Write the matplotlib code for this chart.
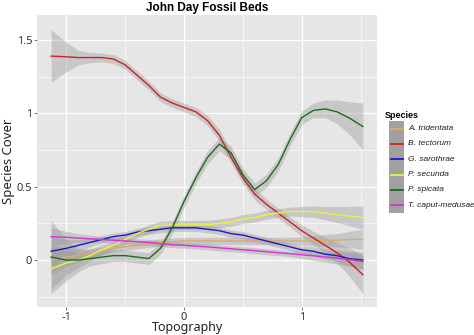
import matplotlib.pyplot as plt
from matplotlib.patches import Rectangle
from matplotlib.lines import Line2D

# Topography values where the smoothed curves were read
topography = [-1.13, -1.0, -0.9, -0.8, -0.7, -0.6, -0.5, -0.4, -0.3, -0.2, -0.1, 0.0, 0.1, 0.2,
              0.3, 0.4, 0.5, 0.6, 0.7, 0.8, 0.9, 1.0, 1.1, 1.2, 1.3, 1.4, 1.52]

# Smoothed cover for each species (fit) and the half width of its grey band (se)
a_tridentata = [0.0, 0.02, 0.03, 0.05, 0.06, 0.08, 0.09, 0.10, 0.11, 0.12, 0.125, 0.13, 0.13, 0.13,
                0.13, 0.13, 0.13, 0.13, 0.13, 0.13, 0.13, 0.13, 0.13, 0.135, 0.135, 0.14, 0.14]
a_tridentata_se = [0.10, 0.06, 0.04, 0.03, 0.025, 0.025, 0.025, 0.025, 0.025, 0.025, 0.025, 0.025, 0.025, 0.025,
                   0.025, 0.025, 0.025, 0.025, 0.025, 0.025, 0.025, 0.03, 0.035, 0.04, 0.045, 0.055, 0.07]

b_tectorum = [1.39, 1.385, 1.38, 1.38, 1.38, 1.37, 1.33, 1.26, 1.19, 1.11, 1.07, 1.04, 1.01, 0.95,
              0.85, 0.70, 0.56, 0.45, 0.38, 0.32, 0.26, 0.20, 0.15, 0.10, 0.05, -0.01, -0.10]
b_tectorum_se = [0.18, 0.10, 0.05, 0.035, 0.03, 0.03, 0.03, 0.03, 0.03, 0.03, 0.03, 0.03, 0.03, 0.035,
                 0.04, 0.04, 0.04, 0.04, 0.035, 0.035, 0.035, 0.04, 0.045, 0.055, 0.07, 0.095, 0.13]

g_sarothrae = [0.06, 0.08, 0.10, 0.12, 0.14, 0.16, 0.17, 0.19, 0.20, 0.21, 0.22, 0.22, 0.22, 0.21,
               0.20, 0.18, 0.17, 0.15, 0.13, 0.11, 0.09, 0.07, 0.06, 0.04, 0.03, 0.01, 0.0]
g_sarothrae_se = [0.10, 0.06, 0.04, 0.03, 0.025, 0.025, 0.025, 0.025, 0.025, 0.025, 0.025, 0.025, 0.025, 0.025,
                  0.025, 0.025, 0.025, 0.025, 0.025, 0.025, 0.025, 0.025, 0.03, 0.035, 0.04, 0.05, 0.06]

p_secunda = [-0.06, -0.02, 0.0, 0.03, 0.07, 0.10, 0.14, 0.18, 0.21, 0.235, 0.24, 0.24, 0.24, 0.24,
             0.25, 0.26, 0.28, 0.29, 0.31, 0.32, 0.33, 0.33, 0.33, 0.32, 0.31, 0.30, 0.29]
p_secunda_se = [0.14, 0.08, 0.05, 0.04, 0.035, 0.03, 0.03, 0.03, 0.03, 0.03, 0.03, 0.03, 0.03, 0.03,
                0.03, 0.03, 0.03, 0.03, 0.03, 0.03, 0.03, 0.035, 0.04, 0.045, 0.055, 0.065, 0.08]

p_spicata = [0.02, 0.0, 0.0, 0.01, 0.02, 0.03, 0.03, 0.02, 0.01, 0.08, 0.22, 0.40, 0.56, 0.70,
             0.79, 0.73, 0.58, 0.48, 0.54, 0.65, 0.82, 0.97, 1.02, 1.03, 1.01, 0.97, 0.91]
p_spicata_se = [0.25, 0.14, 0.08, 0.05, 0.045, 0.04, 0.04, 0.04, 0.04, 0.04, 0.04, 0.04, 0.04, 0.045,
                0.045, 0.045, 0.045, 0.045, 0.045, 0.045, 0.045, 0.045, 0.05, 0.06, 0.08, 0.11, 0.16]

t_caput_medusae = [0.16, 0.155, 0.15, 0.145, 0.14, 0.135, 0.13, 0.125, 0.12, 0.112, 0.105, 0.10, 0.095, 0.09,
                   0.083, 0.077, 0.07, 0.064, 0.057, 0.05, 0.043, 0.036, 0.029, 0.021, 0.013, 0.004, -0.01]
t_caput_medusae_se = [0.06, 0.04, 0.03, 0.025, 0.02, 0.02, 0.02, 0.02, 0.02, 0.02, 0.02, 0.02, 0.02, 0.02,
                      0.02, 0.02, 0.02, 0.02, 0.02, 0.02, 0.02, 0.025, 0.03, 0.035, 0.04, 0.045, 0.055]

species = ["A. tridentata", "B. tectorum", "G. sarothrae", "P. secunda", "P. spicata", "T. caput-medusae"]
fits = [a_tridentata, b_tectorum, g_sarothrae, p_secunda, p_spicata, t_caput_medusae]
ses = [a_tridentata_se, b_tectorum_se, g_sarothrae_se, p_secunda_se, p_spicata_se, t_caput_medusae_se]
colors = ["#D8AC6C", "#D02020", "#1A1AC8", "#F0F040", "#1E6B1E", "#D830D8"]

fig = plt.figure(figsize=(4.74, 3.35), dpi=100)
ax = fig.add_axes([37 / 474, 28 / 335, 340 / 474, 292 / 335])
ax.set_facecolor("#E6E6E6")

# grey bands and lines, one species after the other like ggplot does
for fit, se, col in zip(fits, ses, colors):
    lower = [f - s for f, s in zip(fit, se)]
    upper = [f + s for f, s in zip(fit, se)]
    ax.fill_between(topography, lower, upper, color="#999999", alpha=0.4, linewidth=0, zorder=2)
    ax.plot(topography, fit, color=col, linewidth=1.0, zorder=3)

ax.set_xlim(-1.25, 1.64)
ax.set_ylim(-0.32, 1.67)
ax.set_xticks([-1, 0, 1])
ax.set_xticklabels(["-1", "0", "1"])
ax.set_xticks([-0.5, 0.5, 1.5], minor=True)
ax.set_yticks([0, 0.5, 1, 1.5])
ax.set_yticklabels(["0", "0.5", "1", "1.5"])
ax.set_yticks([-0.25, 0.25, 0.75, 1.25], minor=True)

ax.grid(which="major", color="white", linewidth=0.9, zorder=1)
ax.grid(which="minor", color="white", linewidth=0.45, zorder=1)
ax.set_axisbelow(True)
for s in ax.spines.values():
    s.set_visible(False)
ax.tick_params(which="major", length=2.5, width=0.5, color="#444444", labelsize=8,
               labelcolor="#333333", pad=1)
ax.tick_params(which="minor", length=0)
for lab in ax.get_xticklabels() + ax.get_yticklabels():
    lab.set_family("Noto Sans")

# axis titles placed where the reference has them
fig.text(187 / 474, 1 - 334.5 / 335, "Topography", fontsize=9, family="Noto Sans",
         ha="center", va="bottom", color="#222222")
fig.text(9 / 474, 1 - 161 / 335, "Species Cover", fontsize=9.5, family="Noto Sans",
         ha="center", va="center", rotation=90, color="#222222")
ax.set_title("John Day Fossil Beds", fontsize=8.5, fontweight="bold", family="Liberation Sans", pad=3)

# legend drawn by hand: grey key boxes with a short coloured line
fig.text(385 / 474, 1 - 115 / 335, "Species", fontsize=6.5, fontweight="bold",
         family="Liberation Sans", va="center", ha="left")
key_h = 15.3
for i, (name, col) in enumerate(zip(species, colors)):
    top = 121 + i * key_h
    fig.patches.append(Rectangle((389 / 474, 1 - (top + key_h) / 335), 15 / 474, key_h / 335,
                                 transform=fig.transFigure, facecolor="#A0A0A0", edgecolor="none"))
    yc = 1 - (top + key_h / 2) / 335
    fig.lines.append(Line2D([390.5 / 474, 402.5 / 474], [yc, yc], transform=fig.transFigure,
                            color=col, linewidth=1.3))
    fig.text(408 / 474, yc, name, fontsize=6, style="italic", family="Liberation Sans",
             va="center", ha="left", color="#222222")

fig.savefig("out.png", dpi=100)
